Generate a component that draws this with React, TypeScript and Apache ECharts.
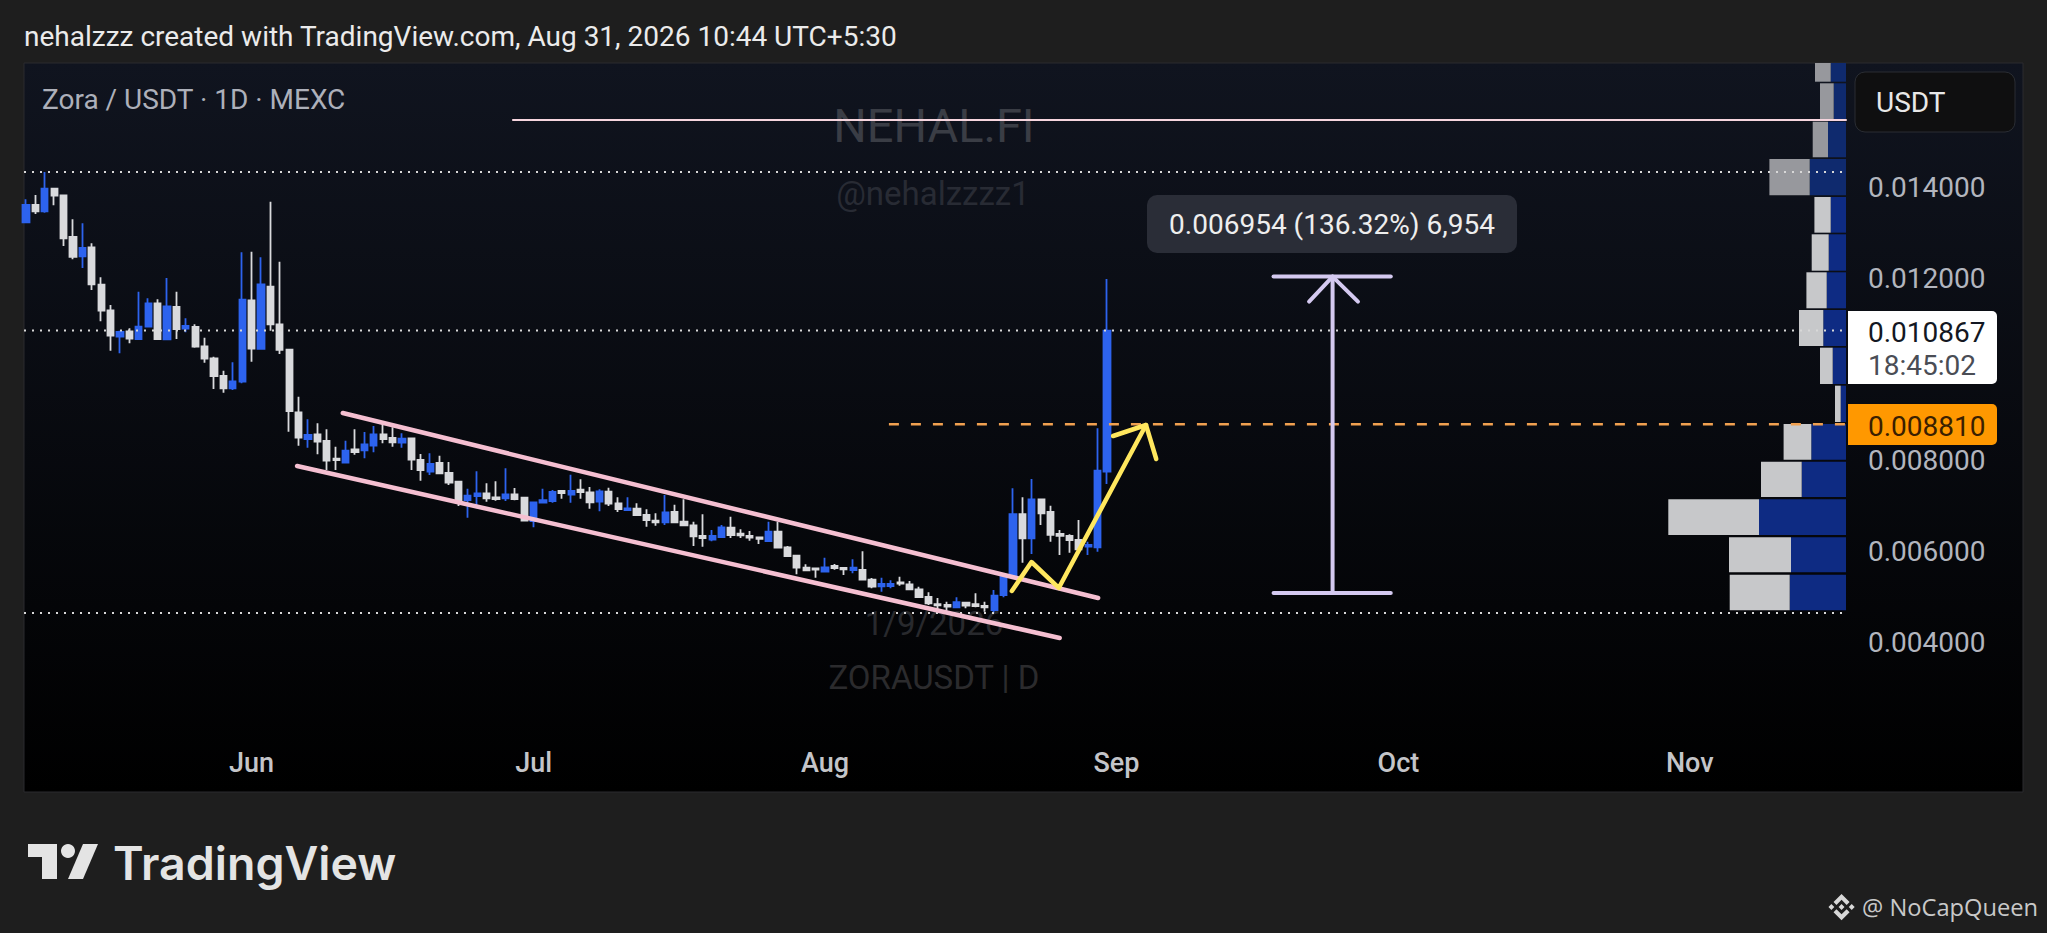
import React, { useEffect, useRef } from "react";
import * as echarts from "echarts";

// Days are counted from the first candle, 8 May 2026.
const opens = [.013245,.013626,.013487,.013985,.013839,.012923,.012498,.012696,.011875,.011311,.010733,.01085,.010681,.010952,.011465,.010674,.011385,.010908,.010945,.01052,.010256,.009868,.009597,.009744,.011531,.010462,.011832,.011004,.010447,.009069,.008483,.008586,.008439,.008051,.007963,.008256,.008234,.008337,.008586,.008505,.008402,.008498,.008022,.007765,.007956,.007736,.007545,.007142,.00723,.007289,.007201,.007179,.007267,.007194,.006681,.007084,.00712,.00734,.00726,.00737,.007311,.007106,.007326,.007069,.006923,.006952,.006813,.006688,.006652,.006879,.006666,.006586,.006351,.006271,.006329,.006535,.006403,.006351,.006322,.006242,.006447,.006102,.005919,.005655,.005641,.005568,.005692,.005648,.005604,.005604,.005392,.005245,.005252,.005333,.005289,.005179,.005011,.004851,.004835,.004785,.004886,.004851,.004813,.004725,.005055,.005457,.006829,.006301,.007158,.006879,.006396,.006352,.006264,.006116,.006103,.007765];
const closes = [.013626,.013487,.013985,.013832,.012894,.012484,.012681,.011883,.011304,.010755,.010835,.010689,.010952,.011465,.010681,.011399,.010901,.010967,.010513,.010249,.009868,.009597,.009751,.011546,.010469,.011883,.011004,.01044,.009099,.008512,.008571,.008424,.008007,.008022,.008227,.008197,.008366,.008586,.008483,.00841,.00849,.008029,.007802,.007934,.007728,.007523,.007106,.007238,.007289,.007179,.007164,.007267,.007164,.006688,.007091,.007142,.007318,.007296,.00734,.007318,.007091,.007333,.007062,.006945,.00696,.006813,.006703,.006652,.006872,.006652,.006586,.006344,.006307,.006351,.006542,.006373,.006366,.006315,.006286,.006447,.006095,.005912,.005655,.005597,.005612,.005663,.005648,.005619,.005655,.005392,.005238,.005297,.005297,.005304,.005179,.005011,.004872,.004829,.004798,.004895,.00482,.004813,.004785,.00504,.005473,.006829,.006301,.007158,.00685,.006374,.006352,.006264,.006059,.006154,.007787,.010867];
const lows = [.013245,.013429,.013458,.013619,.012725,.012432,.012242,.011758,.01107,.010425,.010366,.010586,.010681,.010952,.010659,.010674,.010681,.010828,.010491,.010161,.009582,.009502,.00956,.009707,.010183,.010462,.010865,.010352,.008645,.008337,.008293,.008146,.007802,.007802,.007963,.008139,.008058,.00819,.008388,.008315,.008293,.007802,.007567,.007692,.007728,.007472,.007011,.006754,.006959,.007106,.007128,.00712,.007135,.006688,.006542,.007084,.007084,.007172,.007084,.007172,.006952,.006893,.007011,.006879,.006908,.006813,.006557,.006579,.006593,.00663,.006586,.006132,.006117,.006234,.006329,.006307,.006307,.006249,.006176,.006242,.00608,.005912,.005509,.005597,.005436,.005553,.005612,.005494,.005531,.005392,.005201,.005128,.005201,.00526,.005165,.004989,.004835,.004725,.00471,.004785,.004763,.004785,.004688,.004666,.005004,.005422,.005765,.005956,.006593,.006226,.005934,.005985,.006044,.005934,.006007,.007494];
const highs = [.013751,.013846,.014352,.013985,.013854,.013311,.013223,.012784,.012037,.011429,.010865,.010916,.011722,.011575,.011553,.012022,.011722,.011136,.011004,.010711,.010293,.009985,.010169,.012586,.012601,.012476,.0137,.012381,.010447,.009413,.008915,.008827,.008696,.008315,.008446,.008696,.008637,.008769,.008805,.008739,.008608,.008498,.008153,.008168,.008117,.007978,.007545,.007391,.007772,.007509,.007553,.007838,.007406,.007194,.007091,.007391,.007362,.007362,.007699,.007597,.007428,.007377,.007413,.007201,.007201,.007069,.006938,.00685,.007253,.00704,.007157,.006666,.006828,.006483,.006593,.006776,.006498,.006461,.006322,.006666,.006666,.006132,.005919,.005729,.005655,.005875,.005736,.005663,.005839,.006014,.005428,.005436,.005377,.005458,.005362,.005238,.005113,.004989,.004908,.005004,.004908,.005092,.004908,.005165,.005532,.0074,.007202,.007604,.007158,.007018,.006484,.006389,.006703,.006226,.008719,.012];

const shownPriceTicks = [0.004, 0.006, 0.008, 0.012, 0.014];
const monthTickDays = [24, 54, 85, 116, 146, 177];
const monthTickLabels = ["Jun", "Jul", "Aug", "Sep", "Oct", "Nov"];

const profileLows = [.016336,.015494,.014675,.013839,.013018,.012182,.011356,.010527,.009692,.008857,.008029,.007209,.006374,.005554,.004719];
const profileHighs = [.016747,.016301,.015457,.014637,.013802,.012982,.012147,.011319,.01049,.009655,.008813,.007985,.007158,.006323,.005501];
const profileBuy = [15.3,12.3,18,36.3,15.3,17.3,19.3,22.7,13.3,5.3,34.7,44.3,87,55,56.3];
const profileSell = [15.7,13.7,15.3,40.3,16.3,17,20.3,24.3,12.7,5.7,27.7,40.7,90.7,62,60];

const dayMin = -0.213;
const dayMax = 193.62;
const dottedPrices = [0.01435, 0.010867, 0.00466];
const entryPrice = 0.00881;
const entryLine = [[91.8, entryPrice], [dayMax, entryPrice]];
const resistanceLine = [[51.8, 0.015494], [dayMax, 0.015494]];
const channelUpper = [[33.7, 0.009055], [114.06, 0.004989]];
const channelLower = [[28.84, 0.00789], [109.97, 0.00411]];
const zigzag = [[104.88, 0.005143], [106.97, 0.00578], [109.87, 0.005209], [119.15, 0.008791]];
const zigzagHead = [[115.65, 0.008549], [119.15, 0.008791], [120.24, 0.008044]];
const measureStem = [[139, 0.005099], [139, 0.012053]];
const measureTop = [[132.72, 0.012053], [145.19, 0.012053]];
const measureBottom = [[132.72, 0.005099], [145.19, 0.005099]];
const measureHead = [[136.5, 0.011503], [139, 0.012053], [141.7, 0.011503]];

const BINANCE =
  "M7.5 10.1 12 5.6l4.5 4.5 2.6-2.6L12 .4 4.9 7.5l2.6 2.6zM.4 12l2.6-2.6L5.6 12 3 14.6.4 12zM7.5 13.9 12 18.4l4.5-4.5 2.6 2.6L12 23.6l-7.1-7.1 2.6-2.6zM18.4 12l2.6-2.6 2.6 2.6-2.6 2.6-2.6-2.6zM14.6 12 12 9.4 9.4 12 12 14.6 14.6 12z";
echarts.graphic.registerShape("binanceLogo", echarts.graphic.extendPath(BINANCE, {}) as any);

const lineSeries = (data: number[][], color: string, width: number, z: number, type: any = "solid", cap = "round") => ({
  type: "line",
  data,
  symbol: "none",
  silent: true,
  z,
  lineStyle: { color, width, type, cap, join: "round" },
});

const txt = (text: string, x: number, y: number, fill: string, font: string, align = "left", z = 20) => ({
  type: "text",
  z,
  silent: true,
  style: { text, x, y, fill, font, align, verticalAlign: "middle", textAlign: align, textVerticalAlign: "middle" },
});

export default function App() {
  const ref = useRef<HTMLDivElement>(null);
  useEffect(() => {
    const chart = echarts.init(ref.current!, undefined, { renderer: "svg" });
    const candles = opens.map((o, i) => [i, o, closes[i], lows[i], highs[i]]);
    const profile = profileLows.map((l, i) => [l, profileHighs[i], profileBuy[i], profileSell[i]]);
    const dottedSeries = dottedPrices.map((p) => lineSeries([[dayMin, p], [dayMax, p]], "#d8d8d8", 2, 3, [2, 6], "butt"));

    chart.setOption({
      animation: false,
      backgroundColor: "#1e1e1e",
      grid: { left: 24, top: 63, width: 1822, height: 729, containLabel: false, show: false },
      xAxis: [
        {
          type: "value",
          min: dayMin,
          max: dayMax,
          z: 10,
          axisLine: { show: false },
          axisTick: { show: false },
          splitLine: { show: false },
          axisLabel: {
            inside: true,
            margin: 16,
            customValues: monthTickDays,
            formatter: (v: number) => monthTickLabels[monthTickDays.indexOf(v)] ?? "",
            color: "#c4c5c9",
            fontFamily: "Roboto",
            fontWeight: 500,
            fontSize: 27,
          },
        },
        { type: "value", min: 0, max: 1822, inverse: true, show: false },
      ],
      yAxis: {
        type: "value",
        position: "right",
        min: 0.000725,
        max: 0.016747,
        z: 10,
        axisLine: { show: false },
        axisTick: { show: false },
        splitLine: { show: false },
        axisLabel: {
          customValues: shownPriceTicks,
          formatter: (v: number) => v.toFixed(6),
          margin: 22,
          padding: [4, 0, 0, 0],
          color: "#b2b5be",
          fontFamily: "Roboto",
          fontSize: 28,
        },
      },
      series: [
        {
          type: "custom",
          xAxisIndex: 1,
          yAxisIndex: 0,
          z: 1,
          silent: true,
          clip: true,
          data: profile,
          encode: { x: [2, 3], y: [0, 1] },
          renderItem: (_: any, api: any) => {
            const low = api.value(0);
            const high = api.value(1);
            const buy = api.value(2);
            const sell = api.value(3);
            const right = api.coord([0, low]);
            const buyEnd = api.coord([buy, high]);
            const sellEnd = api.coord([buy + sell, high]);
            const dim = low > 0.0138;
            return {
              type: "group",
              children: [
                {
                  type: "rect",
                  shape: { x: buyEnd[0], y: buyEnd[1], width: right[0] - buyEnd[0], height: right[1] - buyEnd[1] },
                  style: { fill: dim ? "#0f2a6e" : "#0e2b83" },
                },
                {
                  type: "rect",
                  shape: { x: sellEnd[0], y: sellEnd[1], width: buyEnd[0] - sellEnd[0], height: right[1] - buyEnd[1] },
                  style: { fill: dim ? "#97989d" : "#c7c8ca" },
                },
              ],
            };
          },
        },
        {
          type: "candlestick",
          z: 2,
          silent: true,
          barWidth: 6.6,
          data: candles,
          itemStyle: {
            color: "#2d63ee",
            color0: "#d9dadd",
            borderColor: "#2d63ee",
            borderColor0: "#d9dadd",
            borderWidth: 1.8,
          },
        },
        ...dottedSeries,
        lineSeries(entryLine, "#f0a050", 2.5, 3, [10, 12], "butt"),
        lineSeries(resistanceLine, "#f6d5de", 2, 3),
        lineSeries(channelUpper, "#f5bfd1", 4.5, 4),
        lineSeries(channelLower, "#f5bfd1", 4.5, 4),
        lineSeries(zigzag, "#ffe75e", 4.5, 5),
        lineSeries(zigzagHead, "#ffe75e", 4.5, 5),
        lineSeries(measureStem, "#d4c9f0", 4, 5),
        lineSeries(measureTop, "#d4c9f0", 4, 5),
        lineSeries(measureBottom, "#d4c9f0", 4, 5),
        lineSeries(measureHead, "#d4c9f0", 4, 5),
      ],
      graphic: {
        elements: [
          {
            type: "rect",
            z: -5,
            silent: true,
            shape: { x: 24, y: 63, width: 1999, height: 729 },
            style: {
              stroke: "#2a2b2e",
              lineWidth: 1,
              fill: new echarts.graphic.LinearGradient(0, 0, 0, 1, [
                { offset: 0, color: "#10141f" },
                { offset: 1, color: "#000000" },
              ]),
            },
          },
          txt("NEHAL.FI", 934, 125, "#3a3d45", "400 47px Roboto", "center", -1),
          txt("@nehalzzzz1", 933, 193, "#282b34", "400 33px Roboto", "center", -1),
          txt("1/9/2026", 934, 623, "#28292d", "400 33px Roboto", "center", -1),
          txt("ZORAUSDT | D", 934, 677, "#2b2b2d", "400 33px Roboto", "center", -1),
          txt("nehalzzz created with TradingView.com, Aug 31, 2026 10:44 UTC+5:30", 24, 36, "#ebebeb", "400 28px Roboto"),
          txt("Zora / USDT · 1D · MEXC", 42, 99, "#adb0ba", "400 28px Roboto"),
          {
            type: "rect",
            z: 20,
            silent: true,
            shape: { x: 1855, y: 72, width: 160, height: 60, r: 10 },
            style: { fill: "#0f0f10", stroke: "#2a2d33", lineWidth: 1 },
          },
          txt("USDT", 1876, 102, "#e8e8e8", "400 28px Roboto"),
          {
            type: "rect",
            z: 20,
            silent: true,
            shape: { x: 1147, y: 195, width: 370, height: 58, r: 10 },
            style: { fill: "#2a2d37" },
          },
          txt("0.006954 (136.32%) 6,954", 1332, 224, "#eeeeee", "400 28px Roboto", "center", 21),
          {
            type: "rect",
            z: 20,
            silent: true,
            shape: { x: 1848, y: 311, width: 149, height: 73, r: [0, 5, 5, 0] },
            style: { fill: "#ffffff" },
          },
          txt("0.010867", 1868, 332, "#131722", "400 28px Roboto", "left", 21),
          txt("18:45:02", 1868, 365, "#4a4d55", "400 28px Roboto", "left", 21),
          {
            type: "rect",
            z: 20,
            silent: true,
            shape: { x: 1848, y: 404, width: 149, height: 41, r: [0, 5, 5, 0] },
            style: { fill: "#ff9800" },
          },
          txt("0.008810", 1868, 426, "#3a2000", "400 28px Roboto", "left", 21),
          { type: "polygon", z: 20, silent: true, shape: { points: [[28, 844], [57, 844], [57, 879], [42, 879], [42, 857], [28, 857]] }, style: { fill: "#e4e4e4" } },
          { type: "circle", z: 20, silent: true, shape: { cx: 68, cy: 851, r: 7 }, style: { fill: "#e4e4e4" } },
          { type: "polygon", z: 20, silent: true, shape: { points: [[83, 844], [98, 844], [83, 879], [68, 879]] }, style: { fill: "#e4e4e4" } },
          txt("TradingView", 113, 863, "#e4e4e4", "600 46.5px Inter"),
          { type: "binanceLogo", z: 20, silent: true, x: 1828, y: 893.5, scaleX: 1.13, scaleY: 1.13, style: { fill: "#d8d8d8" } },
          txt("@ NoCapQueen", 1862, 907, "#c9c9c9", "400 23.7px 'Open Sans'"),
        ],
      },
    });
    return () => chart.dispose();
  }, []);
  return <div ref={ref} style={{ position: "absolute", left: 0, top: 0, width: 2047, height: 933 }} />;
}
